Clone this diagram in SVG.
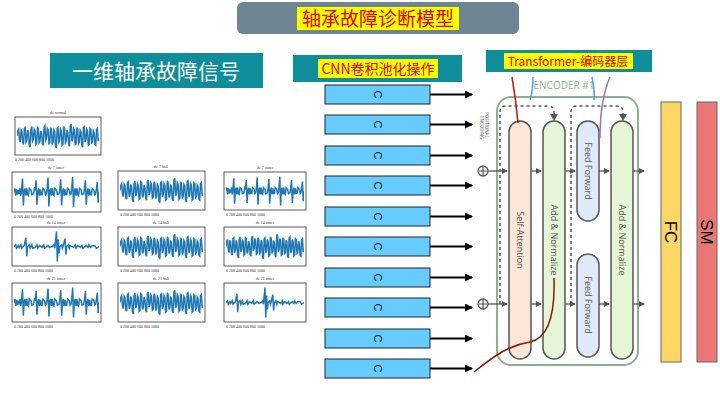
<svg xmlns="http://www.w3.org/2000/svg" width="720" height="408" viewBox="0 0 720 408">
<style>
.hd{font-family:"Noto Sans CJK SC","Liberation Sans",sans-serif;}
.c{fill:#66ccff;stroke:#222;stroke-width:1}
.ct{font-family:"Liberation Sans",sans-serif;font-size:11px;fill:#111}
.fr{fill:#fff;stroke:#333;stroke-width:0.8}
.w{stroke:#1f77b4;stroke-width:1.5;fill:none;vector-effect:non-scaling-stroke}
.pl{font-family:"Liberation Serif",serif;font-size:4px;fill:#333}
.tk{font-family:"Liberation Serif",serif;font-size:4px;fill:#333}
.bx{stroke:#555;stroke-width:1.5}
.et{font-family:"Open Sans","Liberation Sans",sans-serif;font-size:9px;fill:#555}
.pe{font-family:"Open Sans","Liberation Sans",sans-serif;font-size:4.5px;fill:#555}
.ga{stroke:#555;stroke-width:1.3;fill:none;marker-end:url(#ag)}
.dsh{stroke:#555;stroke-width:1.5;fill:none;stroke-dasharray:3 3}
</style>
<defs>
<marker id="ab" markerWidth="8" markerHeight="8" refX="7" refY="4" orient="auto" markerUnits="userSpaceOnUse"><path d="M0 0L8 4L0 8z" fill="#000"/></marker>
<marker id="ag" markerWidth="6" markerHeight="6" refX="5" refY="3" orient="auto" markerUnits="userSpaceOnUse"><path d="M0 0L6 3L0 6z" fill="#555"/></marker>
<symbol id="wa" viewBox="0 0 100 40" preserveAspectRatio="none"><path class="w" d="M0 20 L1 14 2 12 3 24 4 27 5 13 6 15 7 28 8 30 9 11 10 10 11 27 12 25 13 13 14 16 15 31 16 33 17 12 18 9 19 26 20 24 21 12 22 14 23 30 24 29 25 10 26 11 27 28 28 26 29 14 30 17 31 29 32 31 33 10 34 8 35 25 36 23 37 11 38 13 39 29 40 28 41 10 42 12 43 29 44 27 45 13 46 15 47 32 48 34 49 11 50 10 51 27 52 25 53 12 54 14 55 31 56 30 57 9 58 11 59 28 60 26 61 13 62 16 63 30 64 32 65 8 66 6 67 26 68 24 69 11 70 13 71 30 72 29 73 10 74 12 75 29 76 27 77 13 78 15 79 31 80 33 81 10 82 9 83 27 84 25 85 12 86 14 87 31 88 30 89 11 90 12 91 28 92 27 93 14 94 16 95 30 96 31 97 12 98 11 99 26 100 22"/></symbol>
<symbol id="wb" viewBox="0 0 100 40" preserveAspectRatio="none"><path class="w" d="M0 20 L1 16 2 24 3 17 4 23 5 18 6 22 7 16 8 24 9 17 10 5 11 35 12 19 13 16 14 24 15 16 16 23 17 24 18 16 20 18 21 23 23 22 24 16 25 17 26 7 27 34 28 20 29 16 30 24 31 17 32 23 33 23 34 16 36 18 37 23 38 22 39 16 40 4 41 36 42 19 43 16 44 24 45 16 46 23 47 24 48 16 50 18 51 23 53 22 54 16 55 6 56 35 57 20 58 16 59 24 60 17 61 23 62 23 63 16 65 18 66 23 67 22 68 16 69 3 70 37 71 19 72 16 73 24 74 16 75 23 76 24 77 16 79 18 80 23 82 22 83 16 84 7 85 34 86 20 87 16 88 24 89 17 90 23 91 23 92 16 94 18 95 23 96 22 97 16 98 9 99 32 100 20"/></symbol>
<symbol id="wc" viewBox="0 0 100 40" preserveAspectRatio="none"><path class="w" d="M0 20 L2 18 3 22 5 19 6 21 8 18 9 22 12 19 14 10 15 31 16 20 18 18 19 22 21 18 22 22 25 21 27 18 28 22 30 19 33 21 35 18 36 22 40 19 42 21 45 20 47 18 48 22 50 3 51 37 52 12 53 28 54 20 56 18 57 22 58 19 60 11 61 29 62 20 64 18 65 22 66 19 70 21 72 18 73 22 75 19 78 21 80 19 81 22 85 19 87 21 88 18 90 21 92 19 95 19 97 22 100 20"/></symbol>
</defs>
<rect width="720" height="408" fill="#fff"/>

<g id="title"><rect x="237" y="2" width="282" height="32" rx="6" fill="#6e8593"/><rect x="297" y="7" width="162" height="23" fill="#ffff00"/><text x="378" y="26" text-anchor="middle" class="hd" font-size="19" fill="#e00000">轴承故障诊断模型</text></g>
<g id="signal-title"><rect x="50" y="53" width="213" height="35" fill="#0e8e9a"/><text x="156" y="79" text-anchor="middle" class="hd" font-size="21" fill="#fff">一维轴承故障信号</text></g>
<g id="cnn-title"><rect x="293" y="55" width="169" height="27" fill="#0e8e9a"/><rect x="318" y="59" width="120" height="19" fill="#ffff00"/><text x="378" y="74" text-anchor="middle" class="hd" font-size="14" fill="#e00000">CNN卷积池化操作</text></g>
<g id="tf-title"><rect x="486" y="50" width="166" height="22" fill="#0e8e9a"/><rect x="504" y="53" width="129" height="16" fill="#ffff00"/><text x="568" y="66" text-anchor="middle" class="hd" font-size="12" fill="#e00000">Transformer-编码器层</text></g>

<g id="plots">
<rect class="fr" x="15" y="117" width="86" height="38"/><use href="#wa" x="17" y="119" width="82" height="34"/><text class="pl" x="58" y="114" text-anchor="middle">de normal</text><text class="tk" x="15" y="161">0  200  400  600  800  1000</text>
<rect class="fr" x="12" y="172" width="89" height="40"/><use href="#wb" x="14" y="174" width="85" height="36"/><text class="pl" x="56" y="169" text-anchor="middle">de 7 inner</text><text class="tk" x="14" y="218">0  200  400  600  800  1000</text>
<rect class="fr" x="118" y="171" width="87" height="39"/><use href="#wa" x="120" y="173" width="83" height="35"/><text class="pl" x="161" y="168" text-anchor="middle">de 7 ball</text><text class="tk" x="120" y="216">0  200  400  600  800  1000</text>
<rect class="fr" x="224" y="172" width="82" height="38"/><use href="#wb" x="226" y="174" width="78" height="34"/><text class="pl" x="265" y="169" text-anchor="middle">de 7 outer</text><text class="tk" x="226" y="216">0  200  400  600  800  1000</text>
<rect class="fr" x="12" y="227" width="89" height="39"/><use href="#wc" x="14" y="229" width="85" height="35"/><text class="pl" x="56" y="224" text-anchor="middle">de 14 inner</text><text class="tk" x="14" y="272">0  200  400  600  800  1000</text>
<rect class="fr" x="118" y="227" width="87" height="39"/><use href="#wa" x="120" y="229" width="83" height="35"/><text class="pl" x="161" y="224" text-anchor="middle">de 14 ball</text><text class="tk" x="120" y="272">0  200  400  600  800  1000</text>
<rect class="fr" x="224" y="227" width="82" height="39"/><use href="#wa" x="226" y="229" width="78" height="35"/><text class="pl" x="265" y="224" text-anchor="middle">de 14 outer</text><text class="tk" x="226" y="272">0  200  400  600  800  1000</text>
<rect class="fr" x="12" y="283" width="89" height="39"/><use href="#wb" x="14" y="285" width="85" height="35"/><text class="pl" x="56" y="280" text-anchor="middle">de 21 inner</text><text class="tk" x="14" y="328">0  200  400  600  800  1000</text>
<rect class="fr" x="118" y="283" width="87" height="39"/><use href="#wa" x="120" y="285" width="83" height="35"/><text class="pl" x="161" y="280" text-anchor="middle">de 21 ball</text><text class="tk" x="120" y="328">0  200  400  600  800  1000</text>
<rect class="fr" x="224" y="283" width="82" height="39"/><use href="#wc" x="226" y="285" width="78" height="35"/><text class="pl" x="265" y="280" text-anchor="middle">de 21 outer</text><text class="tk" x="226" y="328">0  200  400  600  800  1000</text>
</g>

<g id="cnn">
<g id="c1"><rect class="c" x="325" y="85" width="105" height="19"/><text class="ct" transform="translate(378 94.5) rotate(90)" text-anchor="middle" dy="4">C</text></g>
<g id="c2"><rect class="c" x="325" y="115" width="105" height="19"/><text class="ct" transform="translate(378 124.5) rotate(90)" text-anchor="middle" dy="4">C</text></g>
<g id="c3"><rect class="c" x="325" y="146" width="105" height="19"/><text class="ct" transform="translate(378 155.5) rotate(90)" text-anchor="middle" dy="4">C</text></g>
<g id="c4"><rect class="c" x="325" y="176" width="105" height="19"/><text class="ct" transform="translate(378 185.5) rotate(90)" text-anchor="middle" dy="4">C</text></g>
<g id="c5"><rect class="c" x="325" y="207" width="105" height="19"/><text class="ct" transform="translate(378 216.5) rotate(90)" text-anchor="middle" dy="4">C</text></g>
<g id="c6"><rect class="c" x="325" y="237" width="105" height="19"/><text class="ct" transform="translate(378 246.5) rotate(90)" text-anchor="middle" dy="4">C</text></g>
<g id="c7"><rect class="c" x="325" y="268" width="105" height="19"/><text class="ct" transform="translate(378 277.5) rotate(90)" text-anchor="middle" dy="4">C</text></g>
<g id="c8"><rect class="c" x="325" y="298" width="105" height="19"/><text class="ct" transform="translate(378 307.5) rotate(90)" text-anchor="middle" dy="4">C</text></g>
<g id="c9"><rect class="c" x="325" y="329" width="105" height="19"/><text class="ct" transform="translate(378 338.5) rotate(90)" text-anchor="middle" dy="4">C</text></g>
<g id="c10"><rect class="c" x="325" y="359" width="105" height="19"/><text class="ct" transform="translate(378 368.5) rotate(90)" text-anchor="middle" dy="4">C</text></g>
</g>

<g id="encoder">
<rect x="497" y="97" width="141" height="268" rx="14" fill="none" stroke="#8fb08f" stroke-width="2"/>
<text x="564" y="89" text-anchor="middle" class="et" style="font-size:10px;fill:#8fb08f">ENCODER #1</text>
<text class="pe" transform="translate(485 112) rotate(90)">POSITIONAL</text>
<text class="pe" transform="translate(480 116) rotate(90)">ENCODING</text>
<g id="self-attn"><rect class="bx" x="509" y="121" width="22" height="238" rx="11" fill="#fde6d8"/><text class="et" transform="translate(520 240) rotate(90)" text-anchor="middle" dy="3">Self-Attention</text></g>
<g id="addnorm1"><rect class="bx" x="543" y="121" width="22" height="238" rx="11" fill="#e6f5d5"/><text class="et" transform="translate(554 240) rotate(90)" text-anchor="middle" dy="3">Add &amp; Normalize</text></g>
<g id="ff1"><rect class="bx" x="577" y="121" width="22" height="100" rx="11" fill="#dfeaf8"/><text class="et" transform="translate(588 171) rotate(90)" text-anchor="middle" dy="3">Feed Forward</text></g>
<g id="ff2"><rect class="bx" x="577" y="254" width="22" height="103" rx="11" fill="#dfeaf8"/><text class="et" transform="translate(588 305) rotate(90)" text-anchor="middle" dy="3">Feed Forward</text></g>
<g id="addnorm2"><rect class="bx" x="611" y="121" width="22" height="238" rx="11" fill="#e6f5d5"/><text class="et" transform="translate(622 240) rotate(90)" text-anchor="middle" dy="3">Add &amp; Normalize</text></g>
<g id="pe1"><circle cx="483" cy="171" r="5" fill="#fff" stroke="#555" stroke-width="1.3"/><path d="M479 171h8M483 167v8" stroke="#555" stroke-width="1.2"/></g>
<g id="pe2"><circle cx="483" cy="304" r="5" fill="#fff" stroke="#555" stroke-width="1.3"/><path d="M479 304h8M483 300v8" stroke="#555" stroke-width="1.2"/></g>
</g>
<g id="fc"><rect x="661" y="102" width="20" height="260" fill="#fdd766" stroke="#666"/><text transform="translate(671 232) rotate(90)" text-anchor="middle" dy="6" font-family="Liberation Sans,sans-serif" font-size="17">FC</text></g>
<g id="sm"><rect x="697" y="102" width="20" height="260" fill="#ec7777" stroke="#666"/><text transform="translate(707 232) rotate(90)" text-anchor="middle" dy="6" font-family="Liberation Sans,sans-serif" font-size="17">SM</text></g>

<g id="connectors">
<g stroke="#000" stroke-width="1.8" marker-end="url(#ab)">
<line x1="430" y1="94.5" x2="472" y2="94.5"/><line x1="430" y1="124.5" x2="472" y2="124.5"/><line x1="430" y1="155.5" x2="472" y2="155.5"/><line x1="430" y1="185.5" x2="472" y2="185.5"/><line x1="430" y1="216.5" x2="472" y2="216.5"/><line x1="430" y1="246.5" x2="472" y2="246.5"/><line x1="430" y1="277.5" x2="472" y2="277.5"/><line x1="430" y1="307.5" x2="472" y2="307.5"/><line x1="430" y1="338.5" x2="472" y2="338.5"/><line x1="430" y1="368.5" x2="472" y2="368.5"/>
</g>
<path class="ga" d="M488 171H507"/><path class="ga" d="M488 304H507"/>
<path class="ga" d="M531 171H541"/><path class="ga" d="M531 304H541"/>
<path class="ga" d="M565 171H575"/><path class="ga" d="M565 304H575"/>
<path class="ga" d="M599 171H609"/><path class="ga" d="M599 304H609"/>
<path class="ga" d="M633 171H644"/><path class="ga" d="M633 304H644"/>
<path class="dsh" d="M500 304V112Q500 106 506 106H548Q554 106 554 112V117"/><path d="M550 114L554 121L558 114z" fill="#555"/>
<path class="dsh" d="M571 304V112Q571 106 577 106H617Q623 106 623 112V117"/><path d="M619 114L623 121L627 114z" fill="#555"/>
<path d="M512 77Q516 100 518 123" stroke="#cc1111" stroke-width="1.5" fill="none"/>
<path d="M533 77Q533 92 530 100" stroke="#4a9ee0" stroke-width="1.5" fill="none"/>
<path d="M592 77Q595 92 594 100" stroke="#4a9ee0" stroke-width="1.5" fill="none"/>
<path d="M610 77Q600 100 600 138" stroke="#9b6fc4" stroke-width="1.5" fill="none"/>
<path d="M474 372C495 355 510 345 530 342C550 338 555 310 554 278" stroke="#8b1a0a" stroke-width="1.5" fill="none"/>
</g>
</svg>
